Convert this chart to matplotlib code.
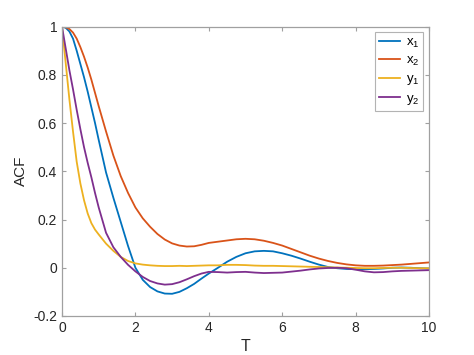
import matplotlib
matplotlib.use('Agg')
import matplotlib.pyplot as plt

plt.rcParams['font.family'] = ['Liberation Sans', 'DejaVu Sans']

# lag axis
T = [0, 0.1, 0.2, 0.3, 0.4, 0.5, 0.6, 0.7, 0.8, 0.9, 1.0,
     1.2, 1.4, 1.6, 1.8, 2.0, 2.2, 2.4, 2.6, 2.8, 3.0, 3.2, 3.4, 3.6, 3.8, 4.0,
     4.25, 4.5, 4.75, 5.0, 5.25, 5.5, 5.75, 6.0, 6.25, 6.5, 6.75, 7.0, 7.25,
     7.5, 7.75, 8.0, 8.25, 8.5, 8.75, 9.0, 9.25, 9.5, 9.75, 10.0]

x1 = [1.0, 0.995, 0.98, 0.95, 0.9, 0.845, 0.79, 0.73, 0.665, 0.6, 0.53,
      0.395, 0.29, 0.19, 0.09, 0.0, -0.05, -0.08, -0.098, -0.107, -0.108,
      -0.1, -0.085, -0.067, -0.045, -0.024,
      0.0, 0.025, 0.045, 0.06, 0.068, 0.07, 0.068, 0.06, 0.05, 0.038, 0.025,
      0.013, 0.003, -0.002, -0.005, -0.006, -0.006, -0.005, -0.003, 0.0,
      0.001, 0.0, -0.002, -0.003]

x2 = [1.0, 0.997, 0.99, 0.975, 0.95, 0.915, 0.875, 0.83, 0.78, 0.725, 0.67,
      0.565, 0.465, 0.38, 0.31, 0.25, 0.205, 0.17, 0.14, 0.117, 0.101, 0.092,
      0.088, 0.089, 0.095, 0.103,
      0.108, 0.113, 0.118, 0.12, 0.118, 0.112, 0.103, 0.092, 0.078, 0.064,
      0.05, 0.038, 0.028, 0.02, 0.014, 0.01, 0.008, 0.008, 0.009, 0.011,
      0.013, 0.016, 0.019, 0.022]

y1 = [1.0, 0.85, 0.7, 0.565, 0.44, 0.35, 0.28, 0.225, 0.185, 0.158, 0.138,
      0.1, 0.07, 0.045, 0.028, 0.018, 0.013, 0.01, 0.008, 0.007, 0.007,
      0.008, 0.007, 0.008, 0.009, 0.01,
      0.01, 0.012, 0.012, 0.011, 0.009, 0.008, 0.008, 0.007, 0.006, 0.005,
      0.004, 0.003, 0.002, 0.001, 0.0, -0.001, -0.002, -0.002, -0.001, 0.0,
      0.0, -0.001, -0.002, -0.002]

y2 = [1.0, 0.91, 0.82, 0.74, 0.655, 0.575, 0.5, 0.435, 0.375, 0.31, 0.25,
      0.145, 0.085, 0.045, 0.012, -0.015, -0.038, -0.055, -0.065, -0.07,
      -0.068, -0.06, -0.048, -0.035, -0.024, -0.017,
      -0.018, -0.02, -0.018, -0.017, -0.02, -0.022, -0.021, -0.02, -0.016,
      -0.012, -0.007, -0.003, -0.001, 0.0, -0.002, -0.008, -0.015, -0.019,
      -0.018, -0.015, -0.013, -0.012, -0.011, -0.01]

series = [(x1, '#0072BD', '$\\mathregular{x_1}$'),
          (x2, '#D95319', '$\\mathregular{x_2}$'),
          (y1, '#EDB120', '$\\mathregular{y_1}$'),
          (y2, '#7E2F8E', '$\\mathregular{y_2}$')]

fig = plt.figure(figsize=(4.74, 3.55), dpi=100)
ax = fig.add_axes([0.1308, 0.1099, 0.7743, 0.8153])

for vals, col, lab in series:
    ax.plot(T, vals, color=col, lw=1.3, label=lab)

ax.set_xlim(0, 10)
ax.set_ylim(-0.2, 1)
ax.set_xticks([0, 2, 4, 6, 8, 10])
ax.set_yticks([-0.2, 0, 0.2, 0.4, 0.6, 0.8, 1])
ax.set_yticklabels(['-0.2', '0', '0.2', '0.4', '0.6', '0.8', '1'])

for s in ax.spines.values():
    s.set_color('#a0a0a0')
    s.set_linewidth(0.9)
ax.tick_params(direction='in', top=True, right=True, length=3,
               color='#a0a0a0', labelcolor='#262626', labelsize=10)

ax.set_xlabel('T', fontsize=11.5, color='#262626', labelpad=3)
ax.set_ylabel('ACF', fontsize=11, color='#262626')
ax.yaxis.set_label_coords(-0.093, 0.5)

leg = ax.legend(loc='upper right', fontsize=9.5, frameon=True, fancybox=False,
                handlelength=1.6, borderpad=0.3, labelspacing=0.38,
                handletextpad=0.4, borderaxespad=0.45)
leg.get_frame().set_edgecolor('#a0a0a0')
leg.get_frame().set_linewidth(0.8)

fig.savefig('out.png', dpi=100)
